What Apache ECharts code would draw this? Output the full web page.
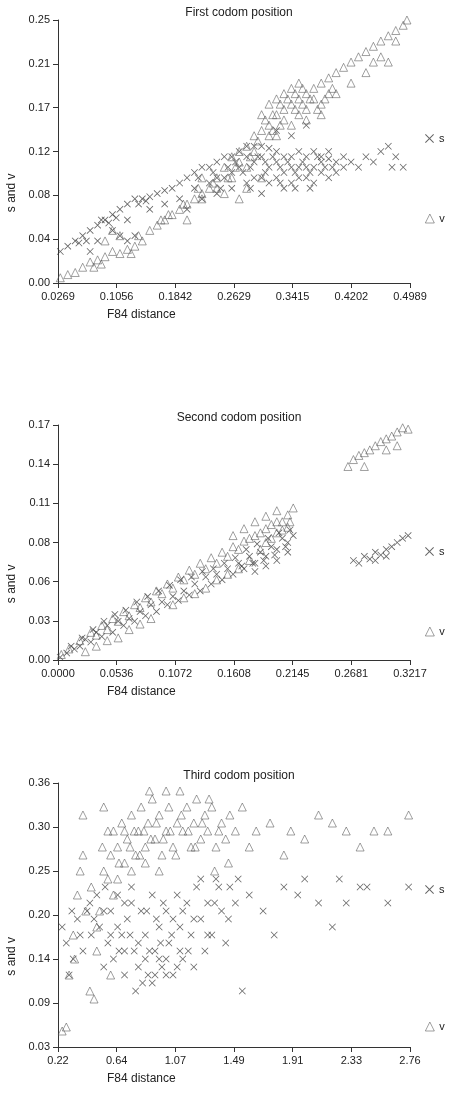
<!DOCTYPE html>
<html>
<head>
<meta charset="utf-8">
<script src="https://cdn.jsdelivr.net/npm/echarts@6/dist/echarts.min.js"></script>
<style>html,body{margin:0;padding:0;background:#fff}#chart{width:474px;height:1103px}</style>
</head>
<body>
<div id="chart"></div>
<script>
// panel titles and tick labels
const titles = ['First codom position', 'Second codom position', 'Third codom position'];
const xTicks1 = ['0.0269', '0.1056', '0.1842', '0.2629', '0.3415', '0.4202', '0.4989'];
const yTicks1 = ['0.00', '0.04', '0.08', '0.12', '0.17', '0.21', '0.25'];
const xTicks2 = ['0.0000', '0.0536', '0.1072', '0.1608', '0.2145', '0.2681', '0.3217'];
const yTicks2 = ['0.00', '0.03', '0.06', '0.08', '0.11', '0.14', '0.17'];
const xTicks3 = ['0.22', '0.64', '1.07', '1.49', '1.91', '2.33', '2.76'];
const yTicks3 = ['0.03', '0.09', '0.14', '0.20', '0.25', '0.30', '0.36'];

// first position
const s1 = [[0.03,0.03],[0.04,0.035],[0.05,0.04],[0.06,0.045],[0.07,0.05],[0.08,0.055],[0.085,0.06],[0.09,0.06],[0.1,0.065],[0.11,0.07],[0.12,0.075],[0.13,0.08],[0.14,0.08],[0.15,0.082],[0.16,0.085],[0.17,0.088],[0.18,0.09],[0.19,0.095],[0.2,0.1],[0.21,0.105],[0.22,0.11],[0.23,0.11],[0.24,0.115],[0.25,0.12],[0.26,0.12],[0.27,0.125],[0.28,0.13],[0.29,0.13],[0.3,0.13],[0.31,0.128],[0.32,0.125],[0.33,0.12],[0.34,0.12],[0.35,0.125],[0.36,0.12],[0.37,0.125],[0.38,0.12],[0.39,0.118],[0.4,0.115],[0.41,0.11],[0.42,0.115],[0.43,0.11],[0.44,0.12],[0.45,0.115],[0.46,0.125],[0.47,0.13],[0.48,0.12],[0.49,0.11],[0.475,0.11],
  [0.2,0.07],[0.22,0.08],[0.24,0.085],[0.26,0.09],[0.28,0.095],[0.3,0.1],[0.32,0.1],[0.34,0.095],[0.36,0.1],[0.38,0.105],[0.3,0.085],[0.33,0.09],[0.27,0.11],[0.29,0.115],[0.31,0.11],[0.35,0.11],[0.37,0.11],[0.39,0.125],[0.41,0.12],[0.25,0.1],[0.23,0.095],[0.21,0.09],[0.19,0.08],[0.17,0.075],[0.15,0.07],[0.12,0.06],[0.1,0.05],[0.08,0.04],[0.07,0.03],[0.34,0.14],[0.36,0.15],[0.32,0.145],[0.29,0.1],[0.31,0.095],[0.33,0.105],[0.35,0.1],[0.37,0.095],[0.39,0.1],[0.4,0.105],[0.28,0.12],[0.3,0.12],[0.32,0.115],[0.34,0.11],[0.36,0.11],[0.38,0.115],[0.26,0.105],[0.24,0.1],[0.11,0.045],[0.12,0.04],[0.13,0.045],
  [0.255,0.11],[0.265,0.115],[0.275,0.105],[0.285,0.11],[0.295,0.12],[0.305,0.115],[0.315,0.12],[0.325,0.11],[0.335,0.115],[0.345,0.105],[0.355,0.115],[0.365,0.105],[0.375,0.12],[0.385,0.11],[0.395,0.11],[0.305,0.105],[0.325,0.095],[0.345,0.09],[0.365,0.09],[0.285,0.09],[0.215,0.1],[0.235,0.105],[0.245,0.09],[0.135,0.075],[0.145,0.078],[0.105,0.062],[0.095,0.057],[0.065,0.04],[0.055,0.038]];
const v1 = [[0.03,0.005],[0.04,0.008],[0.05,0.01],[0.06,0.015],[0.07,0.02],[0.08,0.022],[0.09,0.025],[0.1,0.03],[0.11,0.028],[0.12,0.032],[0.13,0.035],[0.14,0.04],[0.15,0.05],[0.16,0.055],[0.17,0.06],[0.18,0.065],[0.19,0.07],[0.2,0.075],[0.21,0.08],[0.22,0.085],[0.23,0.09],[0.24,0.1],[0.25,0.11],[0.26,0.12],[0.27,0.125],[0.28,0.13],[0.29,0.14],[0.3,0.145],[0.31,0.15],[0.32,0.16],[0.33,0.165],[0.34,0.17],[0.35,0.175],[0.36,0.18],[0.37,0.185],[0.38,0.19],[0.39,0.195],[0.4,0.2],[0.41,0.205],[0.42,0.21],[0.43,0.215],[0.44,0.22],[0.45,0.225],[0.46,0.23],[0.47,0.235],[0.48,0.24],[0.49,0.245],[0.495,0.25],
  [0.3,0.16],[0.31,0.17],[0.33,0.18],[0.35,0.19],[0.36,0.165],[0.38,0.17],[0.34,0.15],[0.32,0.14],[0.28,0.11],[0.26,0.1],[0.24,0.09],[0.22,0.08],[0.2,0.06],[0.4,0.18],[0.42,0.19],[0.45,0.21],[0.47,0.21],[0.44,0.2],[0.38,0.16],[0.36,0.155],[0.22,0.1],[0.25,0.085],[0.28,0.09],[0.3,0.1],[0.27,0.08],[0.1,0.05],[0.11,0.045],[0.09,0.04],[0.32,0.175],[0.34,0.185],[0.37,0.175],[0.39,0.18],[0.35,0.16],[0.33,0.155],[0.31,0.14],[0.29,0.125],[0.27,0.115],[0.46,0.215],[0.48,0.23],
  [0.305,0.155],[0.315,0.16],[0.325,0.17],[0.335,0.175],[0.345,0.18],[0.355,0.17],[0.365,0.175],[0.375,0.165],[0.385,0.175],[0.395,0.185],[0.345,0.165],[0.355,0.185],[0.325,0.15],[0.315,0.145],[0.295,0.135],[0.285,0.12],[0.265,0.11],[0.255,0.1],[0.235,0.095],[0.215,0.09],[0.195,0.075],[0.175,0.065],[0.165,0.06],[0.135,0.045],[0.125,0.028],[0.085,0.018],[0.075,0.015]];

// second position
const s2 = [[0.002,0.002],[0.008,0.005],[0.015,0.008],[0.02,0.01],[0.03,0.013],[0.04,0.017],[0.05,0.02],[0.06,0.025],[0.07,0.028],[0.08,0.032],[0.09,0.035],[0.1,0.04],[0.11,0.043],[0.12,0.047],[0.13,0.05],[0.14,0.055],[0.15,0.058],[0.16,0.062],[0.17,0.066],[0.18,0.07],[0.19,0.075],[0.2,0.08],[0.21,0.085],[0.215,0.09],[0.205,0.088],[0.195,0.082],[0.185,0.078],[0.175,0.075],[0.165,0.07],[0.155,0.066],[0.145,0.062],[0.135,0.06],[0.125,0.055],[0.115,0.05],[0.105,0.046],[0.095,0.042],[0.085,0.04],[0.075,0.035],[0.065,0.03],[0.055,0.028],[0.045,0.025],[0.035,0.02],[0.025,0.015],[0.21,0.078],[0.2,0.072],[0.19,0.068],[0.18,0.064],
  [0.012,0.01],[0.022,0.016],[0.032,0.022],[0.042,0.028],[0.052,0.033],[0.062,0.036],[0.072,0.042],[0.082,0.046],[0.092,0.05],[0.102,0.054],[0.112,0.058],[0.122,0.06],[0.132,0.064],[0.142,0.066],[0.152,0.07],[0.162,0.074],[0.172,0.08],[0.182,0.084],[0.192,0.088],[0.202,0.092],[0.212,0.094],[0.208,0.082],[0.198,0.076],[0.188,0.072],[0.178,0.07],[0.168,0.068],
  [0.27,0.072],[0.275,0.07],[0.28,0.075],[0.285,0.073],[0.29,0.078],[0.295,0.076],[0.3,0.08],[0.305,0.082],[0.31,0.085],[0.315,0.088],[0.32,0.09],[0.3,0.075],[0.29,0.072]];
const v2 = [[0.003,0.004],[0.01,0.008],[0.02,0.014],[0.03,0.02],[0.04,0.025],[0.05,0.03],[0.06,0.035],[0.07,0.04],[0.08,0.045],[0.09,0.05],[0.1,0.055],[0.11,0.06],[0.12,0.065],[0.13,0.07],[0.14,0.074],[0.15,0.078],[0.16,0.082],[0.17,0.086],[0.18,0.09],[0.19,0.095],[0.2,0.1],[0.21,0.105],[0.215,0.11],[0.205,0.1],[0.195,0.098],[0.185,0.092],[0.175,0.088],[0.165,0.08],[0.155,0.075],[0.145,0.07],[0.135,0.066],[0.125,0.062],[0.115,0.058],[0.105,0.052],[0.095,0.048],[0.085,0.042],[0.075,0.038],[0.065,0.032],[0.055,0.028],[0.045,0.022],[0.035,0.018],[0.2,0.092],[0.19,0.085],[0.21,0.096],[0.17,0.095],[0.16,0.09],
  [0.025,0.006],[0.035,0.01],[0.045,0.014],[0.055,0.016],[0.065,0.022],[0.075,0.026],[0.085,0.03],[0.105,0.04],[0.115,0.045],[0.125,0.048],[0.135,0.052],[0.145,0.058],[0.155,0.062],[0.165,0.066],[0.175,0.072],[0.185,0.08],[0.195,0.088],[0.205,0.094],[0.212,0.1],[0.18,0.1],[0.19,0.104],[0.2,0.108],
  [0.265,0.14],[0.27,0.145],[0.275,0.148],[0.28,0.15],[0.285,0.152],[0.29,0.155],[0.295,0.158],[0.3,0.16],[0.305,0.162],[0.31,0.165],[0.315,0.168],[0.32,0.167],[0.28,0.14],[0.3,0.152],[0.31,0.155]];

// third position
const s3 = [[0.25,0.18],[0.28,0.16],[0.3,0.12],[0.33,0.14],[0.36,0.19],[0.4,0.15],[0.43,0.2],[0.46,0.17],[0.5,0.22],[0.52,0.18],[0.55,0.13],[0.58,0.16],[0.6,0.2],[0.62,0.14],[0.65,0.22],[0.68,0.17],[0.7,0.12],[0.72,0.19],[0.75,0.23],[0.77,0.15],[0.8,0.13],[0.82,0.2],[0.85,0.17],[0.87,0.12],[0.9,0.22],[0.92,0.15],[0.95,0.18],[0.97,0.13],[1.0,0.2],[1.02,0.16],[1.05,0.12],[1.08,0.22],[1.1,0.18],[1.12,0.14],[1.15,0.21],[1.18,0.17],[1.2,0.13],[1.22,0.23],[1.25,0.19],[1.28,0.15],[1.3,0.21],[1.33,0.17],[1.36,0.24],[1.4,0.2],[1.43,0.16],[1.46,0.23],[1.5,0.21],[1.55,0.1],[1.6,0.22],[1.7,0.2],[1.78,0.17],[1.85,0.23],[1.95,0.22],[2.0,0.24],[2.1,0.21],[2.2,0.18],[2.25,0.24],[2.3,0.21],[2.4,0.23],[2.45,0.23],[2.6,0.21],[2.75,0.23],[0.78,0.1],[0.9,0.11],[1.0,0.12],[0.95,0.14],[0.85,0.14],[1.1,0.15],[0.7,0.15],[0.65,0.18],[0.55,0.2],[0.45,0.21],[1.25,0.24],[1.35,0.21],[0.75,0.21],[1.05,0.19],
  [0.8,0.16],[0.83,0.11],[0.88,0.15],[0.92,0.12],[0.96,0.16],[1.0,0.14],[1.04,0.17],[1.08,0.13],[1.12,0.2],[1.16,0.15],[1.2,0.19],[0.74,0.17],[0.7,0.21],[0.66,0.15],[0.6,0.17],[0.56,0.23],[0.48,0.19],[0.38,0.17],[0.32,0.2],[1.3,0.17],[1.38,0.23],[1.45,0.19],[1.52,0.24],[0.98,0.21],[0.93,0.19],[0.86,0.2]];
const v3 = [[0.25,0.05],[0.28,0.055],[0.3,0.12],[0.33,0.17],[0.36,0.22],[0.4,0.27],[0.45,0.1],[0.48,0.09],[0.5,0.15],[0.52,0.2],[0.55,0.25],[0.58,0.3],[0.6,0.27],[0.62,0.22],[0.65,0.28],[0.68,0.31],[0.7,0.26],[0.72,0.29],[0.75,0.32],[0.78,0.27],[0.8,0.3],[0.82,0.33],[0.85,0.28],[0.87,0.31],[0.9,0.34],[0.92,0.29],[0.95,0.32],[0.97,0.27],[1.0,0.3],[1.02,0.33],[1.05,0.28],[1.08,0.31],[1.1,0.35],[1.12,0.3],[1.15,0.33],[1.18,0.28],[1.2,0.31],[1.22,0.34],[1.25,0.29],[1.28,0.32],[1.3,0.3],[1.33,0.33],[1.36,0.28],[1.4,0.31],[1.43,0.29],[1.46,0.32],[1.5,0.3],[1.55,0.33],[1.6,0.28],[1.65,0.3],[1.75,0.31],[1.85,0.27],[1.9,0.3],[2.0,0.29],[2.1,0.32],[2.2,0.31],[2.3,0.3],[2.4,0.28],[2.5,0.3],[2.6,0.3],[2.75,0.32],[0.4,0.32],[0.55,0.33],[0.65,0.24],[0.75,0.25],[0.85,0.26],[0.95,0.25],[1.35,0.25],[1.45,0.26],[0.88,0.35],[1.0,0.35],[0.6,0.12],[0.5,0.18],
  [0.74,0.28],[0.77,0.3],[0.81,0.27],[0.84,0.3],[0.89,0.29],[0.93,0.31],[0.98,0.29],[1.03,0.3],[1.07,0.27],[1.11,0.32],[1.16,0.3],[1.21,0.28],[1.26,0.31],[1.31,0.34],[1.38,0.3],[0.7,0.3],[0.66,0.26],[0.62,0.3],[0.58,0.24],[0.54,0.28],[0.46,0.23],[0.42,0.2],[0.38,0.25],[0.34,0.14]];

const names = ['s', 'v'];
const xMins = [0.0269, 0, 0.22], xIntervals = [0.0787, 0.05362, 0.42333];
const yMins = [0, 0, 0.03], yIntervals = [0.25 / 6, 0.17 / 6, 0.055];
const xTicks = [xTicks1, xTicks2, xTicks3], yTicks = [yTicks1, yTicks2, yTicks3];
const sData = [s1, s2, s3], vData = [v1, v2, v3];
const tops = [20, 425, 783], heights = [263, 235, 264];
const legendY = [[128, 208], [541, 621], [879, 1016]];

const xPath = 'path://M0,0.8L0.8,0L5,4.2L9.2,0L10,0.8L5.8,5L10,9.2L9.2,10L5,5.8L0.8,10L0,9.2L4.2,5Z';
const font = { fontFamily: 'Liberation Sans', fontSize: 11, color: '#222' };

const option = { animation: false, title: [], grid: [], xAxis: [], yAxis: [], series: [], legend: [], graphic: [] };
for (let i = 0; i < 3; i++) {
  option.title.push({ text: titles[i], left: 234, top: tops[i] - 18, textAlign: 'center', textStyle: { ...font, fontSize: 12, fontWeight: 'normal' } });
  option.grid.push({ left: 58, width: 352, top: tops[i], height: heights[i] });
  const axisBase = {
    gridIndex: i, type: 'value', splitLine: { show: false },
    axisLine: { show: true, lineStyle: { color: '#333' } },
    axisTick: { show: true, lineStyle: { color: '#333' } },
    axisLabel: { ...font }
  };
  option.xAxis.push({ ...axisBase, min: xMins[i], max: xMins[i] + 6 * xIntervals[i], interval: xIntervals[i],
    axisLabel: { ...font, formatter: v => xTicks[i][Math.round((v - xMins[i]) / xIntervals[i])] } });
  option.yAxis.push({ ...axisBase, min: yMins[i], max: yMins[i] + 6 * yIntervals[i], interval: yIntervals[i],
    axisLabel: { ...font, formatter: v => yTicks[i][Math.round((v - yMins[i]) / yIntervals[i])] } });
  option.series.push({ name: 's', type: 'scatter', xAxisIndex: i, yAxisIndex: i, data: sData[i],
    symbol: xPath, symbolSize: 7, itemStyle: { color: '#333', opacity: 0.75 } });
  option.series.push({ name: 'v', type: 'scatter', xAxisIndex: i, yAxisIndex: i, data: vData[i],
    symbol: 'triangle', symbolSize: 8, itemStyle: { color: 'rgba(0,0,0,0)', borderColor: '#555', borderWidth: 0.7, opacity: 0.8 } });
  names.forEach((n, k) => option.legend.push({
    data: [n], left: 420, top: legendY[i][k], orient: 'vertical', itemWidth: 9, itemHeight: 9, itemGap: 4,
    itemStyle: { borderWidth: 0.7 },
    textStyle: { ...font }, selectedMode: false
  }));
  option.graphic.push({ type: 'text', left: 6, top: tops[i] + heights[i] / 2 + 22, rotation: Math.PI / 2,
    style: { text: 's and v', ...font, fontSize: 12, fill: '#222' } });
  option.graphic.push({ type: 'text', left: 107, top: tops[i] + heights[i] + 26,
    style: { text: 'F84 distance', ...font, fontSize: 12, fill: '#222' } });
}

const chart = echarts.init(document.getElementById('chart'));
chart.setOption(option);
</script>
</body>
</html>
